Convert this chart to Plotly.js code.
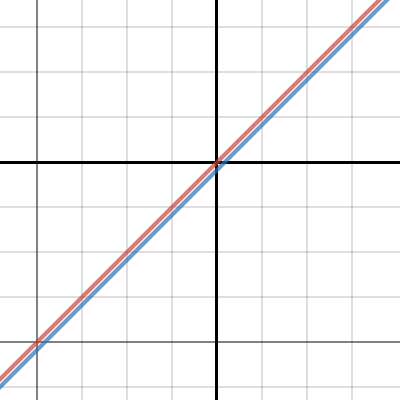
<!DOCTYPE html>
<html>
<head>
<meta charset="utf-8">
<script src="https://cdn.plot.ly/plotly-3.0.1.min.js"></script>
<style>html,body{margin:0;padding:0;background:#fff;}#chart{width:400px;height:400px;}</style>
</head>
<body>
<div id="chart"></div>
<script>
// Data
var lineX = [-6, 6];
var redY = [-6, 6];
var blueY = [-6.17, 5.83];
var majorGridX = [-4];
var majorGridY = [-4];
var minorGridX = [-4, -3, -2, -1, 1, 2, 3];
var minorGridY = [-5, -4, -3, -2, -1, 1, 2, 3];

var traces = [
  {x: lineX, y: blueY, mode: 'lines', line: {color: '#2d70b3', width: 4.2}, opacity: 0.7, hoverinfo: 'skip'},
  {x: lineX, y: redY, mode: 'lines', line: {color: '#c74440', width: 4.2}, opacity: 0.7, hoverinfo: 'skip'}
];

function axis(range, major, minor) {
  return {
    range: range,
    tickmode: 'array',
    tickvals: major,
    showticklabels: false,
    ticks: '',
    showgrid: true,
    gridcolor: 'rgba(0,0,0,0.42)',
    gridwidth: 2,
    zeroline: true,
    zerolinecolor: '#000000',
    zerolinewidth: 3,
    showline: false,
    fixedrange: true,
    minor: {
      tickmode: 'array',
      tickvals: minor,
      showgrid: true,
      gridcolor: 'rgba(0,0,0,0.13)',
      gridwidth: 2,
      ticks: ''
    }
  };
}

var layout = {
  width: 400,
  height: 400,
  margin: {l: 0, r: 0, t: 0, b: 0, pad: 0},
  paper_bgcolor: '#ffffff',
  plot_bgcolor: '#ffffff',
  showlegend: false,
  xaxis: axis([-4.82, 4.07], majorGridX, minorGridX),
  yaxis: axis([-5.28, 3.61], majorGridY, minorGridY)
};

Plotly.newPlot('chart', traces, layout, {staticPlot: true, displayModeBar: false});
</script>
</body>
</html>
